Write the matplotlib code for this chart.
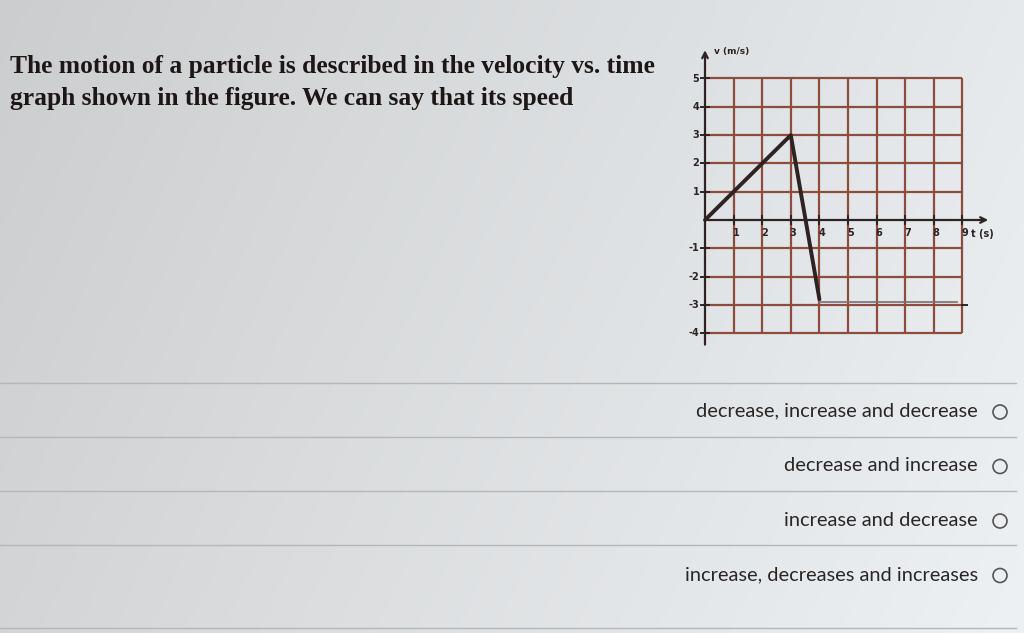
import numpy as np
import matplotlib.pyplot as plt
from matplotlib.patches import Circle

# data
t_main = [0, 3, 4]
v_main = [0, 3, -2.8]
t_tail = [4, 8.8]
v_tail = [-2.9, -2.9]
x_ticks = [1, 2, 3, 4, 5, 6, 7, 8, 9]
y_ticks = [-4, -3, -2, -1, 1, 2, 3, 4, 5]

question = ["The motion of a particle is described in the velocity vs. time",
            "graph shown in the figure. We can say that its speed"]
options = ["decrease, increase and decrease",
           "decrease and increase",
           "increase and decrease",
           "increase, decreases and increases"]

W, H = 1024, 633
fig = plt.figure(figsize=(W / 100, H / 100), dpi=100)

# background: a photographed screen, darker on the left
bg = fig.add_axes([0, 0, 1, 1])
gx = np.linspace(0, 1, 200)
gy = np.linspace(0, 1, 120)
X, Y = np.meshgrid(gx, gy)
shade = 0.80 + 0.10 * X + 0.03 * Y
img = np.dstack([shade, shade + 0.005 + 0.01 * X, shade + 0.01 + 0.015 * X])
bg.imshow(np.clip(img, 0, 1), extent=[0, W, H, 0], aspect='auto')
bg.set_xlim(0, W)
bg.set_ylim(H, 0)
bg.axis('off')

# question text
for i, line in enumerate(question):
    bg.text(10, 66 + i * 32, line, fontsize=18.4, family='Liberation Serif',
            fontweight='bold', color='#1c1616', va='center', ha='left')

# separators and answer options
for yy in [383, 437, 491, 545, 628]:
    bg.plot([0, 1016], [yy, yy], color='#b4b6b8', lw=1)
for i, opt in enumerate(options):
    yy = 411 + i * 54.5
    bg.text(978, yy, opt, fontsize=14.4, family='Lato', color='#2a2626',
            ha='right', va='center')
    bg.add_patch(Circle((1000, yy + 1), 7, fill=False, ec='#555555', lw=1.2))

# graph axes placed in pixels: 28.6 px per second, 28.3 px per m/s
px_x, px_y = 28.6, 28.3
x0, y0 = 705, H - 220
xl, xr, yb, yt = -0.6, 10.2, -4.8, 6.3
ax = fig.add_axes([(x0 + xl * px_x) / W, (y0 + yb * px_y) / H,
                   (xr - xl) * px_x / W, (yt - yb) * px_y / H])
ax.set_xlim(xl, xr)
ax.set_ylim(yb, yt)
ax.axis('off')

grid_c = '#8e4c3c'
ax.vlines(range(1, 10), -4, 5, color=grid_c, lw=1.6)
ax.hlines([v for v in y_ticks], 0, 9, color=grid_c, lw=1.6)

ink = '#2e2222'
ax.annotate('', xy=(0, 6.1), xytext=(0, -4.5),
            arrowprops=dict(arrowstyle='->', color=ink, lw=1.6))
ax.annotate('', xy=(10.0, 0), xytext=(0, 0),
            arrowprops=dict(arrowstyle='->', color=ink, lw=1.6))
for v in y_ticks:
    ax.plot([-0.15, 0.15], [v, v], color=ink, lw=1.4)
    ax.text(-0.2, v, str(v), fontsize=7, color=ink, ha='right', va='center',
            fontweight='bold')
for t in x_ticks:
    ax.plot([t, t], [-0.15, 0.15], color=ink, lw=1.4)
    ax.text(t + 0.08, -0.3, str(t), fontsize=7, color=ink, ha='center',
            va='top', fontweight='bold')
ax.plot([9.0, 9.15], [-3, -3], color=ink, lw=1.4)
ax.text(0.3, 5.95, 'v (m/s)', fontsize=6.5, color=ink, va='center', fontweight='bold')
ax.text(9.3, -0.5, 't (s)', fontsize=7, color=ink, va='center', fontweight='bold')

ax.plot(t_main, v_main, color=ink, lw=2.8, solid_capstyle='round')
ax.plot(t_tail, v_tail, color='#7a7070', lw=1.2)

fig.savefig('out.png', dpi=100)
